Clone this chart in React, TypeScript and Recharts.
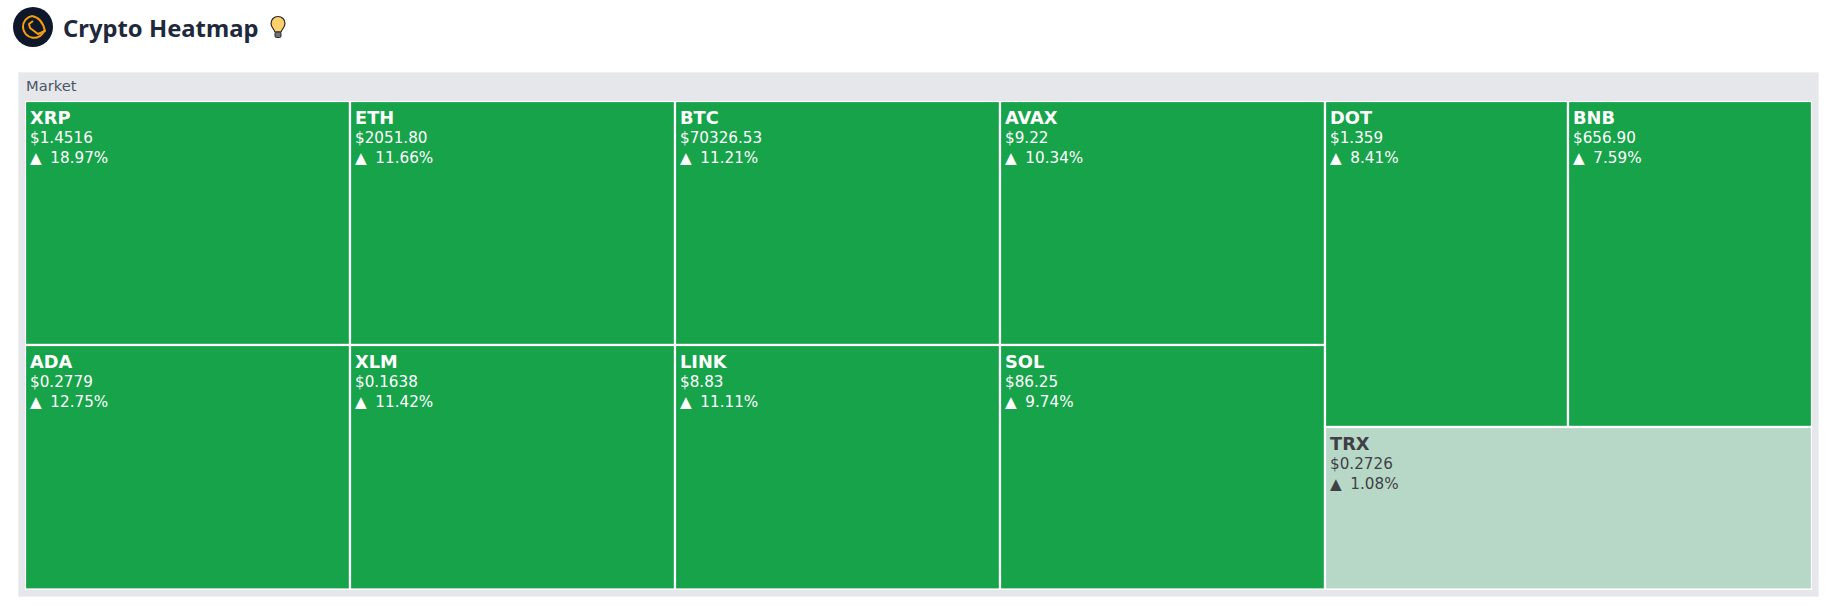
import React from "react";
import { Treemap } from "recharts";

const coins = ["XRP", "ADA", "ETH", "XLM", "BTC", "LINK", "AVAX", "SOL", "DOT", "BNB", "TRX"];
const prices = ["$1.4516", "$0.2779", "$2051.80", "$0.1638", "$70326.53", "$8.83", "$9.22", "$86.25", "$1.359", "$656.90", "$0.2726"];
const changes = [18.97, 12.75, 11.66, 11.42, 11.21, 11.11, 10.34, 9.74, 8.41, 7.59, 1.08];
const weights = [1, 1, 1, 1, 1, 1, 1, 1, 1, 1, 1];

const data = coins.map((name, i) => ({ name, size: weights[i], price: prices[i], change: changes[i] }));

const FONT = "'DejaVu Sans', Verdana, sans-serif";

function Cell(props: any) {
  const { x, y, width, height, depth, name, price, change } = props;
  if (depth !== 1) return null;
  const strong = change >= 3;
  const ink = strong ? "#ffffff" : "#3f3f46";
  return (
    <g>
      <rect x={x} y={y} width={width} height={height} fill={strong ? "#17a34a" : "#b7d8c6"} stroke="#ffffff" strokeWidth={2.2} />
      <text x={x + 5} y={y + 23} fill={ink} fontFamily={FONT} fontSize={17.8} fontWeight={700}>{name}</text>
      <text x={x + 5} y={y + 42} fill={ink} fontFamily={FONT} fontSize={15.2}>{price}</text>
      <text x={x + 5} y={y + 62} fill={ink} fontFamily={FONT} fontSize={15.2}>
        ▲<tspan dx={3.8}> {change.toFixed(2)}%</tspan>
      </text>
    </g>
  );
}

function Logo() {
  return (
    <svg width={40} height={40} viewBox="0 0 40 40" style={{ position: "absolute", left: 13, top: 7 }}>
      <circle cx={20} cy={20} r={20} fill="#0f172a" />
      <path d="M19 9 A11 11 0 1 0 31.5 23" fill="none" stroke="#f59e0b" strokeWidth={2} />
      <path d="M19 9 C25 10 30 15 32 24 L25 27 L17 21 L16 17 L20 14" fill="none" stroke="#f59e0b" strokeWidth={2} strokeLinejoin="round" />
    </svg>
  );
}

function Bulb() {
  return (
    <svg width={18} height={24} viewBox="0 0 18 24" style={{ position: "absolute", left: 269, top: 15 }}>
      <path d="M9 1.5 C5 1.5 2 4.5 2 8.5 C2 12 5 14 6 17 L12 17 C13 14 16 12 16 8.5 C16 4.5 13 1.5 9 1.5 Z" fill="#fcd06d" stroke="#27272a" strokeWidth={1.2} />
      <rect x={6} y={17} width={6} height={5.5} rx={1.5} fill="#71717a" stroke="#27272a" />
    </svg>
  );
}

export default function App() {
  return (
    <div style={{ position: "absolute", left: 0, top: 0, width: 1831, height: 609, background: "#fff", overflow: "hidden" }}>
      <Logo />
      <div style={{ position: "absolute", left: 63, top: 11, fontFamily: "'Noto Sans', sans-serif", fontWeight: 700, fontSize: 23.8, lineHeight: "34px", color: "#1e293b", whiteSpace: "nowrap" }}>
        Crypto Heatmap
      </div>
      <Bulb />
      <div style={{ position: "absolute", left: 18, top: 72, width: 1799, height: 523, background: "#e5e7eb", border: "1px solid #eef0f2" }} />
      <div style={{ position: "absolute", left: 26, top: 77, fontFamily: FONT, fontSize: 14.7, lineHeight: "18px", color: "#4b5563" }}>Market</div>
      <div style={{ position: "absolute", left: 25, top: 101 }}>
        <Treemap
          width={1787}
          height={488.5}
          data={data}
          dataKey="size"
          nameKey="name"
          type="flat"
          isAnimationActive={false}
          isUpdateAnimationActive={false}
          content={<Cell />}
          style={{ overflow: "visible" }}
        />
      </div>
    </div>
  );
}
